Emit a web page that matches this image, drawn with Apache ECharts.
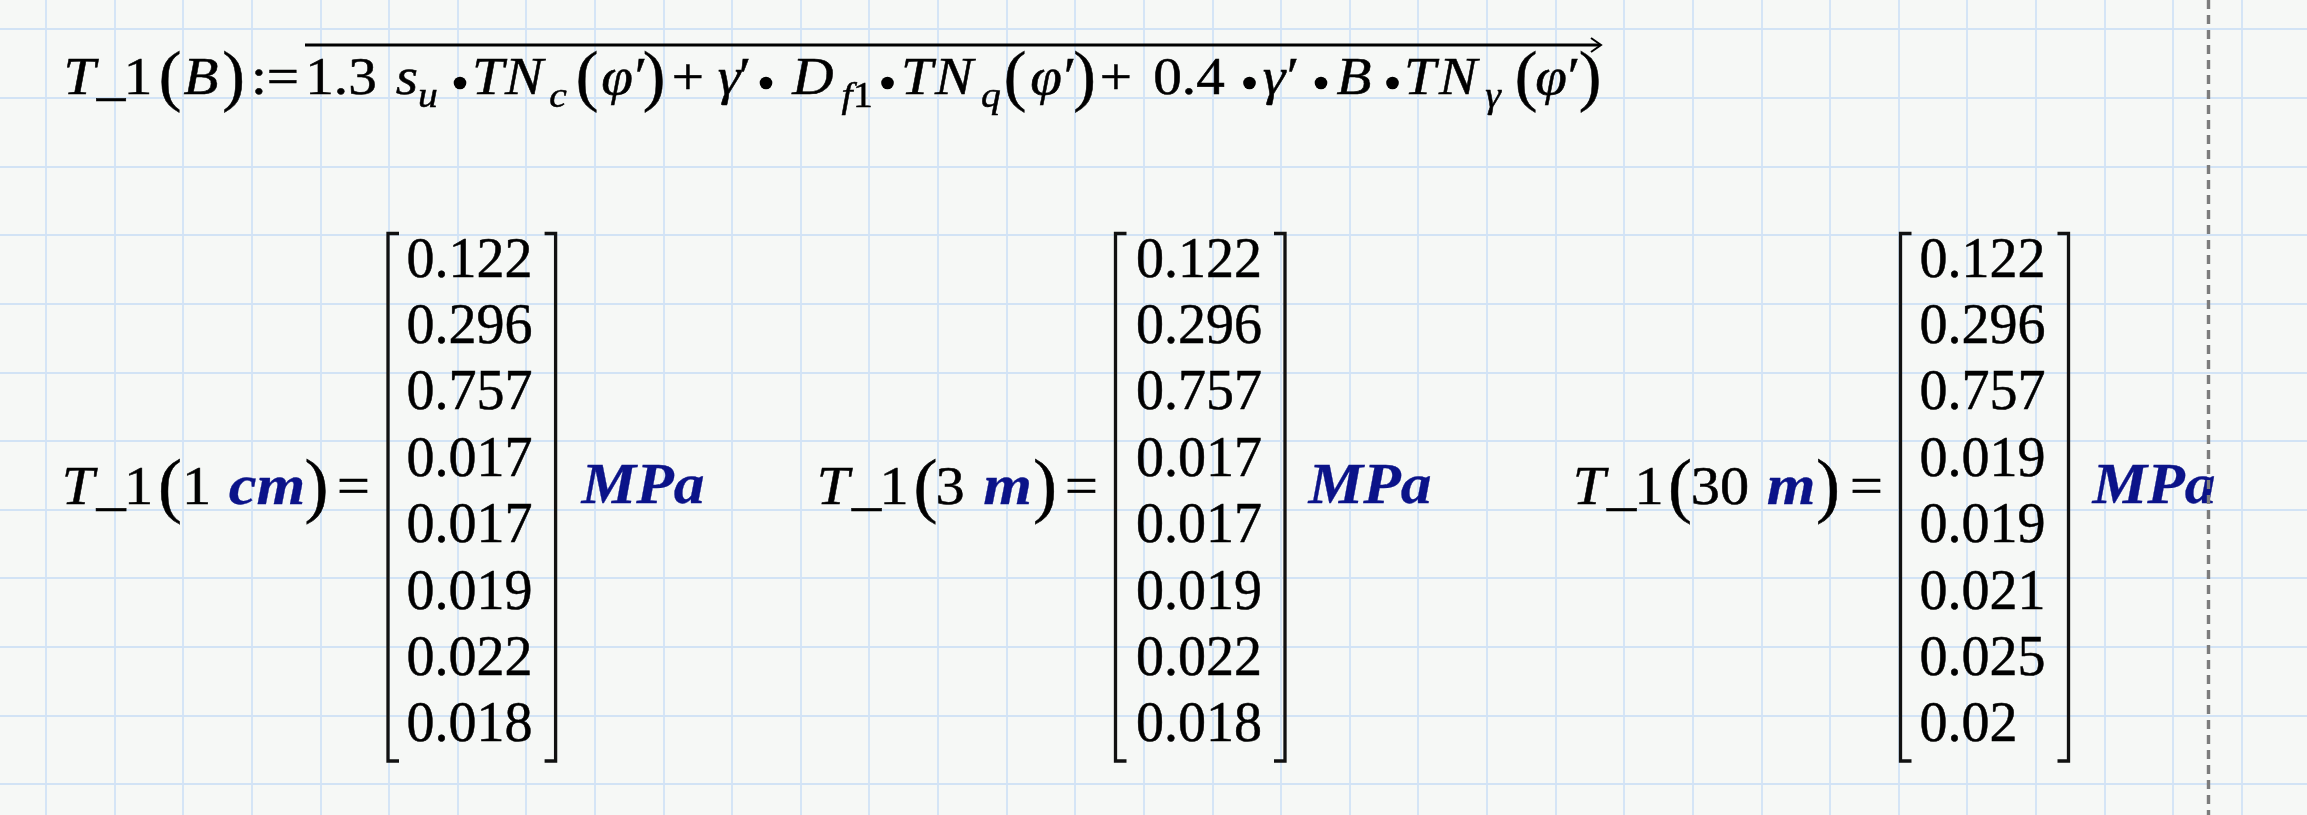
<!DOCTYPE html>
<html>
<head>
<meta charset="utf-8">
<script src="https://cdn.jsdelivr.net/npm/echarts@6/dist/echarts.min.js"></script>
<style>
html,body{margin:0;padding:0;background:#f6f8f6;}
#chart{width:2307px;height:815px;}
</style>
</head>
<body>
<div id="chart"></div>
<script>
// ---------------- data ----------------
const rowNames = ['1', '2', '3', '4', '5', '6', '7', '8'];
const argNumbers = ['1', '3', '30'];
const argUnits = ['cm', 'm', 'm'];
const valuesB1cm = [0.122, 0.296, 0.757, 0.017, 0.017, 0.019, 0.022, 0.018];
const valuesB3m  = [0.122, 0.296, 0.757, 0.017, 0.017, 0.019, 0.022, 0.018];
const valuesB30m = [0.122, 0.296, 0.757, 0.019, 0.019, 0.021, 0.025, 0.02];
const resultUnit = 'MPa';
const matrices = [valuesB1cm, valuesB3m, valuesB30m];

// ---------------- styling / layout ----------------
const FONT = 'Liberation Serif';
const BLUE = '#0b1389';
const BG = '#f6f8f6';
const STEP = 68.62;           // worksheet grid spacing
const GX0 = 45.8, GY0 = 29.2; // first grid lines
const MID = 0.3375;           // canvas "middle" offset above baseline (em)
const STROKE = 0.5;

const NUM_FS = 56;
const rowBase0 = 280.8, rowStep = 66.41;
const numLeft = [406, 1135.5, 1919];
const brL = [388, 1115.5, 1900.5];
const brR = [555.6, 1285, 2068.5];
const brTop = 233.5, brBot = 761;
// centres of the pieces of "T_1( n unit )=" for each evaluation
const exprCentres = [
  [78, 111, 138.5, 170, 196.5, 267, 316.5, 353.5],
  [833, 866.5, 894, 925.5, 950, 1007.5, 1045, 1081.5],
  [1589, 1621.5, 1649, 1680, 1720, 1791, 1828, 1866.5]
];
const exprBase = 508.5;
const unitCentres = [643, 1370, 2154];

function txt(x, baseline, text, fs, o) {
  o = o || {};
  const col = o.color || '#000';
  return {
    type: 'text', x: x, y: baseline - MID * fs, z: 100, silent: true,
    scaleX: o.sx || 1,
    style: {
      text: text, fontFamily: FONT, fontSize: fs,
      fontStyle: o.it ? 'italic' : 'normal',
      fontWeight: o.bold ? 'bold' : 'normal',
      fill: col, stroke: col, lineWidth: o.bold ? 0.3 : STROKE,
      align: o.align || 'center', verticalAlign: 'middle'
    }
  };
}
// parenthesis whose glyph is centred on cy
function paren(x, cy, ch, fs) {
  return txt(x, cy + 0.25 * fs, ch, fs);
}
function dot(cx, cy) {
  return { type: 'circle', z: 100, silent: true, shape: { cx: cx, cy: cy, r: 6.3 }, style: { fill: '#000' } };
}

const graphics = [];

// ---- title formula (token centres) ----
const TB = 98.3, TFS = 52, SFS = 36, SB = 110, PFS = 68, PC = 86, TSX = 1.1;
const titleTokens = [
  [79.5, 'T', 'it'], [111, '_', 'n'], [138, '1', 'n'], [170, '(', 'p'], [201, 'B', 'it'], [233.5, ')', 'p'],
  [275, ':=', 'n'], [341, '1.3', 'n'], [407, 's', 'it'], [428, 'u', 'sub'], [460, '', 'dot'],
  [488, 'T', 'it'], [524, 'N', 'it'], [558, 'c', 'sub'], [587, '(', 'p'], [617, 'φ', 'it'], [641, '′', 'n'],
  [654, ')', 'p'], [688, '+', 'n'], [729, 'γ', 'it'], [745, '′', 'n'], [766, '', 'dot'],
  [813, 'D', 'it'], [847, 'f', 'sub'], [863, '1', 'subn'], [887.5, '', 'dot'],
  [917, 'T', 'it'], [954, 'N', 'it'], [991, 'q', 'sub'], [1015, '(', 'p'], [1046, 'φ', 'it'], [1070, '′', 'n'],
  [1084.5, ')', 'p'], [1116, '+', 'n'], [1189, '0.4', 'n'], [1249.5, '', 'dot'],
  [1274, 'γ', 'it'], [1293, '′', 'n'], [1321, '', 'dot'], [1354, 'B', 'it'], [1392.5, '', 'dot'],
  [1420, 'T', 'it'], [1458, 'N', 'it'], [1493, 'γ', 'sub'], [1526, '(', 'p'], [1551, 'φ', 'it'], [1574, '′', 'n'],
  [1590, ')', 'p']
];
titleTokens.forEach(function (t) {
  const x = t[0], s = t[1], k = t[2];
  if (k === 'it') graphics.push(txt(x, TB, s, TFS, { it: true, sx: TSX }));
  else if (k === 'n') graphics.push(txt(x, TB, s, TFS, { sx: TSX }));
  else if (k === 'sub') graphics.push(txt(x, SB, s, SFS, { it: true, sx: TSX }));
  else if (k === 'subn') graphics.push(txt(x, SB, s, SFS, { sx: TSX }));
  else if (k === 'p') graphics.push(paren(x, PC, s, PFS));
  else if (k === 'dot') graphics.push(dot(x, 83));
});
// vector arrow over the expression
graphics.push({ type: 'line', z: 100, silent: true, shape: { x1: 305, y1: 45, x2: 1600, y2: 45 }, style: { stroke: '#000', lineWidth: 3 } });
graphics.push({ type: 'polyline', z: 100, silent: true, shape: { points: [[1591, 38], [1601, 45], [1591, 52]] }, style: { stroke: '#000', lineWidth: 2, fill: null } });

// ---- the three evaluations ----
const EFS = 54, UFS = 58, EPFS = 72, EPC = 496, ESX = 1.08;
for (let k = 0; k < 3; k++) {
  const c = exprCentres[k];
  graphics.push(txt(c[0], exprBase, 'T', EFS, { it: true, sx: ESX }));
  graphics.push(txt(c[1], exprBase, '_', EFS, { sx: ESX }));
  graphics.push(txt(c[2], exprBase, '1', EFS, { sx: ESX }));
  graphics.push(paren(c[3], EPC, '(', EPFS));
  graphics.push(txt(c[4], exprBase, argNumbers[k], EFS, { sx: ESX }));
  graphics.push(txt(c[5], exprBase, argUnits[k], UFS, { it: true, bold: true, color: BLUE, sx: ESX }));
  graphics.push(paren(c[6], EPC, ')', EPFS));
  graphics.push(txt(c[7], exprBase, '=', EFS, { sx: ESX }));
  // brackets
  graphics.push({ type: 'polyline', z: 100, silent: true,
    shape: { points: [[brL[k] + 11, brTop], [brL[k], brTop], [brL[k], brBot], [brL[k] + 11, brBot]] },
    style: { stroke: '#111', lineWidth: 3.3, fill: null } });
  graphics.push({ type: 'polyline', z: 100, silent: true,
    shape: { points: [[brR[k] - 11, brTop], [brR[k], brTop], [brR[k], brBot], [brR[k] - 11, brBot]] },
    style: { stroke: '#111', lineWidth: 3.3, fill: null } });
  graphics.push(txt(unitCentres[k], 508, resultUnit, UFS, { it: true, bold: true, color: BLUE, sx: 1.06 }));
}
// page boundary (dashed)
graphics.push({ type: 'line', z: 100, silent: true, shape: { x1: 2208.5, y1: 0, x2: 2208.5, y2: 815 },
  style: { stroke: '#7c7c7c', lineWidth: 3.4, lineDash: [9, 6] } });

// ---------------- chart ----------------
const grids = [{ left: GX0 - STEP, top: GY0 - STEP, width: 2500, height: 1000, outerBoundsMode: 'none', containLabel: false }];
const xAxes = [{ gridIndex: 0, type: 'value', min: 0, max: 2500, interval: STEP,
  axisLine: { show: false }, axisTick: { show: false }, axisLabel: { show: false },
  splitLine: { show: true, lineStyle: { color: '#d2e3f7', width: 1.8 } } }];
const yAxes = [{ gridIndex: 0, type: 'value', min: 0, max: 1000, interval: STEP, inverse: true,
  axisLine: { show: false }, axisTick: { show: false }, axisLabel: { show: false },
  splitLine: { show: true, lineStyle: { color: '#c6dcf5', width: 1.6 } } }];
const series = [];
for (let k = 0; k < 3; k++) {
  grids.push({ left: numLeft[k], top: rowBase0 - MID * NUM_FS - rowStep / 2, width: 140, height: rowStep * rowNames.length, outerBoundsMode: 'none' });
  xAxes.push({ gridIndex: k + 1, type: 'value', min: 0, max: 1, show: false });
  yAxes.push({ gridIndex: k + 1, type: 'category', data: rowNames, inverse: true, show: false });
  series.push({
    type: 'scatter', xAxisIndex: k + 1, yAxisIndex: k + 1, silent: true,
    symbolSize: 1, itemStyle: { color: 'rgba(0,0,0,0)', opacity: 1 },
    data: matrices[k].map(function (v, i) { return [0, rowNames[i], v]; }),
    label: { show: true, position: 'right', distance: 0,
      formatter: function (p) { return String(p.value[2]); },
      color: '#000', opacity: 1, fontFamily: FONT, fontSize: NUM_FS,
      textBorderColor: '#000', textBorderWidth: STROKE },
    emphasis: { disabled: true }
  });
}

const chart = echarts.init(document.getElementById('chart'), null, { renderer: 'canvas' });
chart.setOption({
  backgroundColor: BG,
  animation: false,
  grid: grids, xAxis: xAxes, yAxis: yAxes,
  series: series,
  graphic: graphics
});
</script>
</body>
</html>
